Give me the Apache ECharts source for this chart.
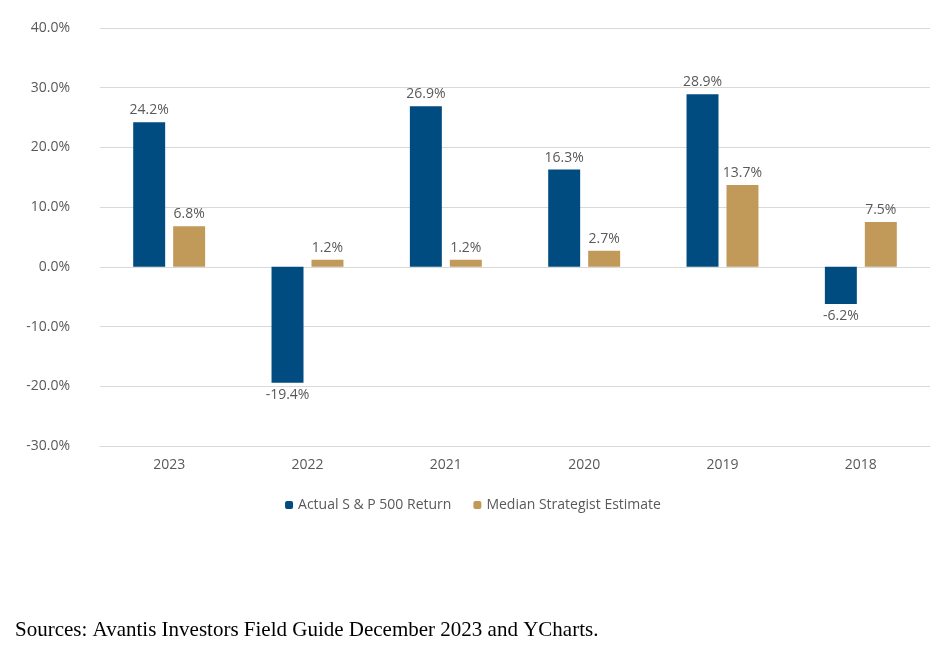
<!DOCTYPE html>
<html>
<head>
<meta charset="utf-8">
<script src="https://cdn.jsdelivr.net/npm/echarts@6/dist/echarts.min.js"></script>
<style>
  html, body { margin: 0; padding: 0; background: #fff; }
  #chart { width: 946px; height: 660px; }
</style>
</head>
<body>
<div id="chart"></div>
<script>
var years = ['2023', '2022', '2021', '2020', '2019', '2018'];
var actual = [24.2, -19.4, 26.9, 16.3, 28.9, -6.2];
var estimate = [6.8, 1.2, 1.2, 2.7, 13.7, 7.5];

var chart = echarts.init(document.getElementById('chart'));
var labelStyle = {
  show: true,
  color: '#595959',
  fontSize: 14,
  fontFamily: 'Open Sans',
  formatter: function (p) { return p.value.toFixed(1) + '%'; }
};

chart.setOption({
  animation: false,
  grid: { left: 100, right: 16, top: 28, bottom: 214 },
  legend: {
    bottom: 143,
    left: 'center',
    itemWidth: 8,
    itemHeight: 8,
    itemGap: 22,
    textStyle: { color: '#595959', fontSize: 14, fontFamily: 'Open Sans' },
    data: ['Actual S & P 500 Return', 'Median Strategist Estimate']
  },
  xAxis: {
    type: 'category',
    data: years,
    axisTick: { show: false },
    axisLine: { onZero: false, lineStyle: { color: '#d9d9d9' } },
    axisLabel: { color: '#595959', fontSize: 14, fontFamily: 'Open Sans', margin: 12 }
  },
  yAxis: {
    type: 'value',
    min: -30,
    max: 40,
    interval: 10,
    axisLabel: {
      color: '#595959', fontSize: 14, fontFamily: 'Open Sans', margin: 30,
      formatter: function (v) { return v.toFixed(1) + '%'; }
    },
    splitLine: { lineStyle: { color: '#d9d9d9' } }
  },
  series: [
    {
      name: 'Actual S & P 500 Return',
      type: 'bar',
      data: actual,
      barGap: '25%',
      barCategoryGap: '48%',
      itemStyle: { color: '#004b80' },
      label: Object.assign({ position: 'top' }, labelStyle),
      labelLayout: function (p) { return {}; }
    },
    {
      name: 'Median Strategist Estimate',
      type: 'bar',
      data: estimate,
      itemStyle: { color: '#c19a5a' },
      label: Object.assign({ position: 'top' }, labelStyle)
    }
  ],
  graphic: [{
    type: 'text',
    left: 15,
    top: 620,
    style: {
      text: 'Sources: Avantis Investors Field Guide December 2023 and YCharts.',
      fontFamily: 'Liberation Serif',
      fontSize: 21,
      fill: '#000'
    }
  }]
});

// negative bars get their labels below
chart.setOption({
  series: [{
    data: actual.map(function (v) {
      return v < 0 ? { value: v, label: { position: 'bottom' } } : v;
    })
  }]
});
</script>
</body>
</html>
